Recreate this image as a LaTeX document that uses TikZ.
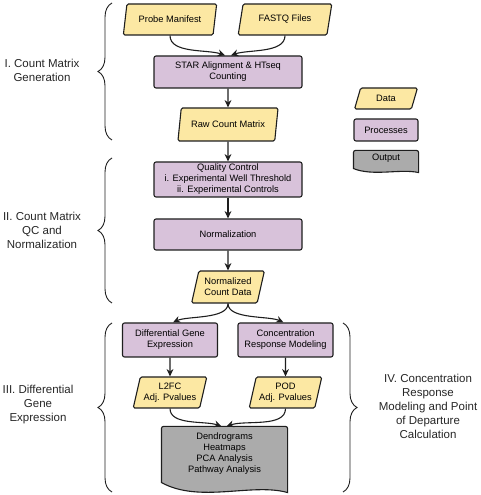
\documentclass[tikz,border=0pt]{standalone}
\usepackage{fontspec}
\setmainfont{Liberation Sans}
\usepackage{tikz}
\usetikzlibrary{arrows.meta,positioning,calc,shapes.geometric,decorations.pathreplacing,backgrounds}
\definecolor{edge}{HTML}{1E1E1E}
\definecolor{datafill}{HTML}{FCE8A3}
\definecolor{procfill}{HTML}{D8C2DA}
\definecolor{outfill}{HTML}{ABABAB}

% document outline behind a node: #2/#3 drop of the left/right end, #4/#5 drop of the two control points
\newcommand{\wavedoc}[5]{%
  \begin{scope}[on background layer]
    \filldraw[draw=edge,fill=outfill,line width=1.1pt]
      ([yshift=-#3]#1.south east) [rounded corners=2pt] -- (#1.north east) -- (#1.north west) [sharp corners] -- ([yshift=-#2]#1.south west)
      .. controls ($(#1.south west)!0.3!(#1.south east)+(0,-#4)$) and ($(#1.south west)!0.72!(#1.south east)+(0,-#5)$) .. ([yshift=-#3]#1.south east) -- cycle;
  \end{scope}}

\begin{document}
\begin{tikzpicture}[x=1pt,y=1pt,>={Stealth[length=2.6mm,width=2.4mm]},
  box/.style={font=\fontsize{9.3}{11}\selectfont,align=center,text=black,line width=1.1pt,draw=edge},
  databox/.style={box,trapezium,trapezium left angle=73,trapezium right angle=107,trapezium stretches=true,fill=datafill,rounded corners=1.5pt,inner sep=1pt},
  procbox/.style={box,rectangle,fill=procfill,rounded corners=2pt,inner sep=1pt},
  docbox/.style={box,rectangle,draw=none,inner sep=1pt},
  flow/.style={->,draw=edge,line width=1.1pt},
  phase/.style={font=\fontsize{11.5}{14}\selectfont,align=center,text=black!85},
  phasebrace/.style={decorate,decoration={brace,amplitude=14pt},draw=edge,line width=0.9pt}]
  \useasboundingbox (0,0) rectangle (480,495);
  % count matrix generation
  \node[databox,minimum width=94,minimum height=31] (manifest) at (170,475.5) {Probe Manifest};
  \node[databox,minimum width=94,minimum height=31] (fastq) at (285,475.5) {FASTQ Files};
  \node[procbox,minimum width=148,minimum height=32] (star) at (228,423) {STAR Alignment \& HTseq\\Counting};
  \node[databox,minimum width=101,minimum height=33] (raw) at (228,370.5) {Raw Count Matrix};
  % QC and normalization
  \node[procbox,minimum width=148,minimum height=35] (qc) at (228,315.5) {Quality Control\\i. Experimental Well Threshold\\ii. Experimental Controls};
  \node[procbox,minimum width=148,minimum height=31] (norm) at (228,260.5) {Normalization};
  \node[databox,minimum width=73,minimum height=32] (normdata) at (228,208) {Normalized\\Count Data};
  % two branches
  \node[procbox,minimum width=95,minimum height=34] (dge) at (170,155) {Differential Gene\\Expression};
  \node[procbox,minimum width=95,minimum height=34] (crm) at (285.5,155) {Concentration\\Response Modeling};
  \node[databox,minimum width=74,minimum height=31] (l2fc) at (170,102.5) {L2FC\\Adj. Pvalues};
  \node[databox,minimum width=73,minimum height=31] (pod) at (285.5,102.5) {POD\\Adj. Pvalues};
  \node[docbox,minimum width=125,minimum height=54] (report) at (224.5,41) {Dendrograms\\Heatmaps\\PCA Analysis\\Pathway Analysis};
  \wavedoc{report}{1}{11}{22}{1}
  % legend
  \node[databox,minimum width=63,minimum height=21] (keydata) at (386,396.5) {Data};
  \node[procbox,minimum width=64,minimum height=22] (keyproc) at (386,365) {Processes};
  \node[docbox,minimum width=64,minimum height=14] (keyout) at (386,337) {Output};
  \wavedoc{keyout}{3}{7}{11}{3}
  % connectors
  \draw[flow] (manifest.south) to[out=-90,in=160,looseness=0.8] ([xshift=-3]star.north);
  \draw[flow] (fastq.south) to[out=-90,in=20,looseness=0.8] ([xshift=3]star.north);
  \draw[flow] (star) -- (raw);
  \draw[flow] (raw) -- (qc);
  \draw[flow] (qc) -- (norm);
  \draw[flow] (norm) -- (normdata);
  \draw[flow] (normdata.south) to[out=-90,in=25,looseness=0.7] ([xshift=3]dge.north);
  \draw[flow] (normdata.south) to[out=-90,in=155,looseness=0.7] ([xshift=-2]crm.north);
  \draw[flow] (dge) -- (l2fc);
  \draw[flow] (crm) -- (pod);
  \draw[flow] (l2fc.south) to[out=-90,in=160,looseness=0.8] ([xshift=-3]report.north);
  \draw[flow] (pod.south) to[out=-90,in=20,looseness=0.8] ([xshift=2]report.north);
  % phases
  \draw[phasebrace] (112,355) -- (112,492);
  \node[phase] (phaseI) at (42,425) {I. Count Matrix\\Generation};
  \draw[phasebrace] (112,192) -- (112,337);
  \node[phase] (phaseII) at (42,265) {II. Count Matrix\\QC and\\Normalization};
  \draw[phasebrace] (112,3) -- (112,172);
  \node[phase] (phaseIII) at (38,90) {III. Differential\\Gene\\Expression};
  \draw[phasebrace] (343,172) -- (343,3);
  \node[phase] (phaseIV) at (428,89) {IV. Concentration\\Response\\Modeling and Point\\of Departure\\Calculation};
\end{tikzpicture}
\end{document}
